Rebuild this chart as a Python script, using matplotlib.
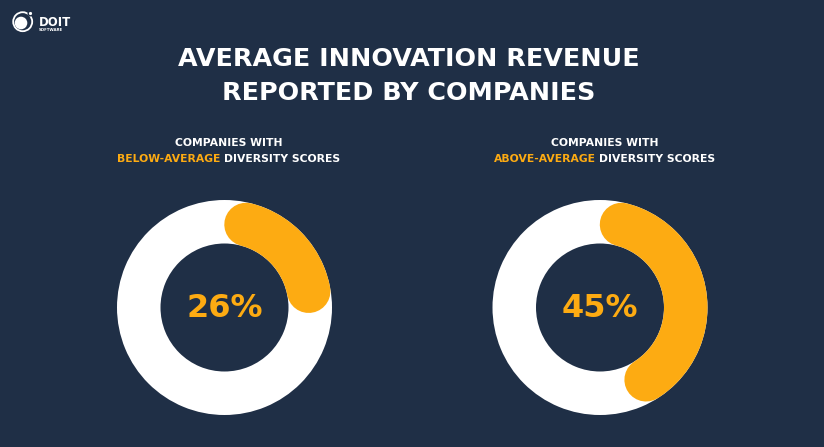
import matplotlib
matplotlib.use("Agg")
import matplotlib.pyplot as plt
import numpy as np
from matplotlib.patches import Wedge, Circle

# ---- data ----
percent_values = [26, 45]
percent_labels = ["26%", "45%"]
subtitle_line1 = ["COMPANIES WITH", "COMPANIES WITH"]
subtitle_highlight = ["BELOW-AVERAGE", "ABOVE-AVERAGE"]
subtitle_rest = ["DIVERSITY SCORES", "DIVERSITY SCORES"]
title_lines = ["AVERAGE INNOVATION REVENUE", "REPORTED BY COMPANIES"]

BG = "#1f2f46"
ORANGE = "#fdab12"
WHITE = "#ffffff"
FONT = "DejaVu Sans"

W, H = 824, 447
fig = plt.figure(figsize=(W / 100, H / 100), dpi=100, facecolor=BG)
ax = fig.add_axes([0, 0, 1, 1])
ax.set_xlim(0, W)
ax.set_ylim(H, 0)
ax.set_aspect("equal")
ax.axis("off")
ax.set_facecolor(BG)

PT = 0.72  # points per pixel at dpi 100

# title
ax.text(W / 2 - 3, 59, title_lines[0], color=WHITE, fontsize=18.3, fontweight="heavy",
        family=FONT, ha="center", va="center")
ax.text(W / 2 - 3, 92.5, title_lines[1], color=WHITE, fontsize=18.3, fontweight="heavy",
        family=FONT, ha="center", va="center")

centers_x = [224.5, 600]
cy = 307.5
r_out, r_in = 107.5, 64
width = r_out - r_in
r_mid = (r_out + r_in) / 2

fig.canvas.draw()
renderer = fig.canvas.get_renderer()

def text_width(s, **kw):
    t = ax.text(0, 0, s, **kw)
    bb = t.get_window_extent(renderer=renderer)
    t.remove()
    return bb.width

sub_kw = dict(fontsize=7.75, fontweight="bold", family=FONT, va="center")

for i, cx in enumerate(centers_x):
    # subtitle
    ax.text(cx + 4.5, 143, subtitle_line1[i], color=WHITE, ha="center", **sub_kw)
    full = subtitle_highlight[i] + " " + subtitle_rest[i]
    wfull = text_width(full, **sub_kw)
    x0 = cx + 4.5 - wfull / 2
    ax.text(x0, 159, subtitle_highlight[i], color=ORANGE, ha="left", **sub_kw)
    ax.text(x0 + wfull, 159, subtitle_rest[i], color=WHITE, ha="right", **sub_kw)

    # white ring
    ax.add_patch(Wedge((cx, cy), r_out, 0, 360, width=width, facecolor=WHITE,
                       edgecolor="none"))
    # orange progress arc with round caps
    cap = (width / 2) / r_mid
    a0 = cap
    a1 = np.deg2rad(360 * percent_values[i] / 100) - cap
    th = np.linspace(a0, a1, 200)
    ax.plot(cx + r_mid * np.sin(th), cy - r_mid * np.cos(th), color=ORANGE,
            linewidth=width * PT, solid_capstyle="round")
    # center label
    ax.text(cx, cy + 1, percent_labels[i], color=ORANGE, fontsize=23,
            fontweight="bold", family=FONT, ha="center", va="center")

# logo
ax.add_patch(Circle((22.7, 21.7), 9.5, facecolor="none", edgecolor=WHITE, linewidth=1.3))
ax.add_patch(Circle((21, 23), 6.3, facecolor=WHITE, edgecolor="none"))
ax.add_patch(Circle((30.5, 13.5), 2.3, facecolor=WHITE, edgecolor=BG, linewidth=1))
ax.text(39, 22, "DOIT", color=WHITE, fontsize=8.5, fontweight="bold", family=FONT,
        ha="left", va="center")
ax.text(39, 30, "SOFTWARE", color=WHITE, fontsize=2.8, fontweight="bold", family=FONT,
        ha="left", va="center")

fig.savefig("out.png", dpi=100, facecolor=BG)
